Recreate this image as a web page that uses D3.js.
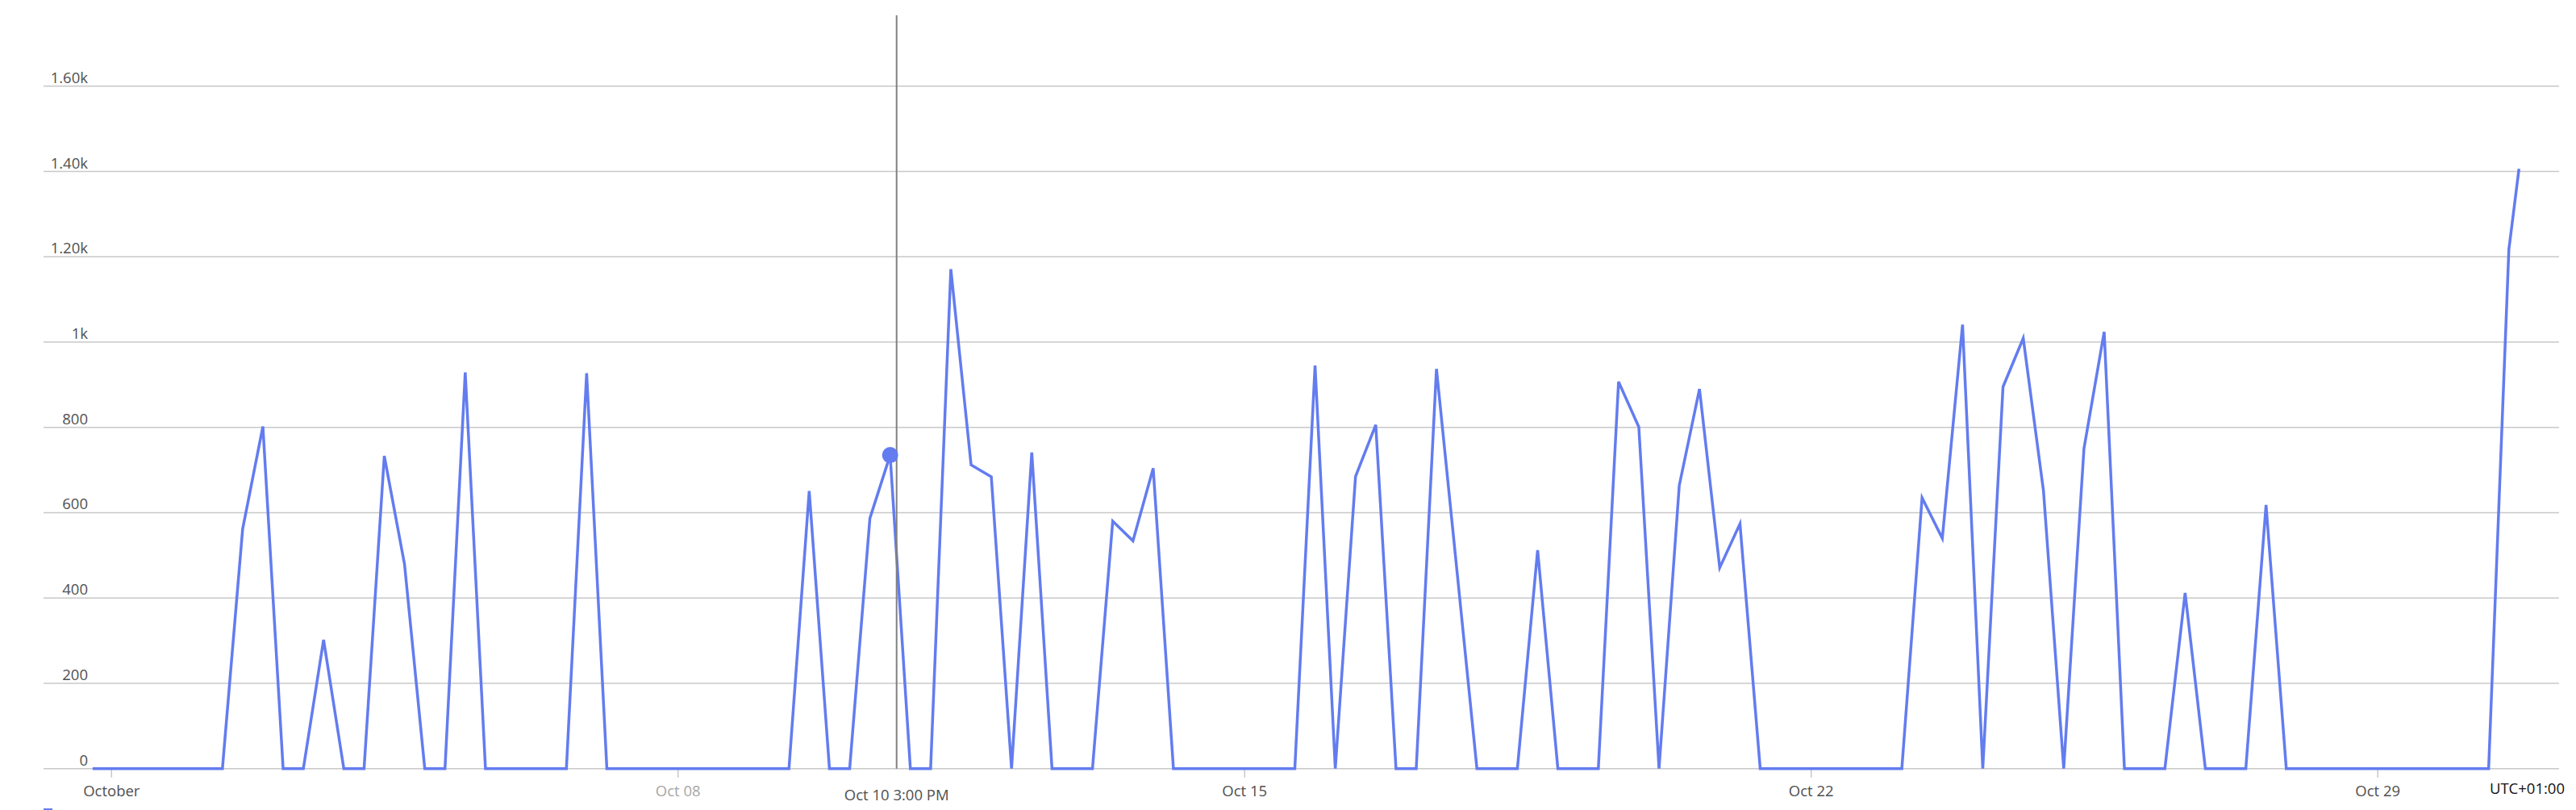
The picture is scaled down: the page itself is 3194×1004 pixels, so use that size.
<!DOCTYPE html>
<html>
<head>
<meta charset="utf-8">
<script src="https://cdn.jsdelivr.net/npm/d3@7"></script>
<style>
  html, body { margin: 0; padding: 0; background: #fff; }
  svg { display: block; font-family: "Segoe UI", "Open Sans", "Noto Sans", sans-serif; }
</style>
</head>
<body>
<svg id="chart" width="3194" height="1004"></svg>
<script>
// ---- data ----
const rangeStart = "2023-09-30T18:30:00Z";
const rangeEnd = "2023-10-30T18:00:00Z";
const firstBin = "2023-09-30T21:00:00Z";
const binHours = 6;
const startValue = 0;
const binValues = [
  0, 0, 0, 0, 0, 0, 0, 562, 802, 0,
  0, 302, 0, 0, 733, 479, 0, 0, 929, 0,
  0, 0, 0, 0, 927, 0, 0, 0, 0, 0,
  0, 0, 0, 0, 0, 651, 0, 0, 587, 735,
  0, 0, 1171, 712, 684, 0, 741, 0, 0, 0,
  580, 534, 704, 0, 0, 0, 0, 0, 0, 0,
  945, 0, 685, 806, 0, 0, 937, 470, 0, 0,
  0, 512, 0, 0, 0, 907, 801, 0, 664, 890,
  471, 574, 0, 0, 0, 0, 0, 0, 0, 0,
  635, 540, 1041, 0, 895, 1009, 651, 0, 750, 1024,
  0, 0, 0, 412, 0, 0, 0, 618, 0, 0,
  0, 0, 0, 0, 0, 0, 0, 0, 0, 1217
];
const endValue = 1406;
const yTicks = [0, 200, 400, 600, 800, 1000, 1200, 1400, 1600];
const yTickLabels = ["0", "200", "400", "600", "800", "1k", "1.20k", "1.40k", "1.60k"];
const xTickDates = ["2023-10-01T00:00:00Z", "2023-10-08T00:00:00Z", "2023-10-15T00:00:00Z", "2023-10-22T00:00:00Z", "2023-10-29T00:00:00Z"];
const xTickLabels = ["October", "Oct 08", "Oct 15", "Oct 22", "Oct 29"];
const fadedTick = "Oct 08";
const hoverIndex = 40; // index in full series (bin 39 + start point)
const hoverLabel = "Oct 10 3:00 PM";
const crosshairTime = "2023-10-10T16:55:00Z";
const yMax = 1766;
const timezoneLabel = "UTC+01:00";

// ---- build series ----
const times = [new Date(rangeStart)];
const values = [startValue];
binValues.forEach((v, i) => {
  times.push(d3.utcHour.offset(new Date(firstBin), i * binHours));
  values.push(v);
});
times.push(new Date(rangeEnd));
values.push(endValue);
const series = times.map((t, i) => ({ t, v: values[i] }));

// ---- layout ----
const svg = d3.select("#chart");
const plotLeft = 114.8, plotRight = 3123.3, gridLeft = 54, gridRight = 3173;
const plotTop = 19, plotBottom = 952.7;
const lineColor = "#637cef";
const textColor = "#505050";

const x = d3.scaleUtc().domain([new Date(rangeStart), new Date(rangeEnd)]).range([plotLeft, plotRight]);
const y = d3.scaleLinear().domain([0, yMax]).range([plotBottom, plotTop]);

// gridlines
const grid = svg.append("g");
grid.selectAll("line").data(yTicks).join("line")
  .attr("x1", gridLeft).attr("x2", gridRight)
  .attr("y1", d => y(d)).attr("y2", d => y(d))
  .attr("stroke", "#c8c8c8").attr("stroke-width", 1.5);

// y labels
svg.append("g").selectAll("text").data(yTicks).join("text")
  .attr("x", 109).attr("y", d => y(d) - 4)
  .attr("text-anchor", "end")
  .attr("font-size", 18.5).attr("fill", textColor)
  .text((d, i) => yTickLabels[i]);

// x axis ticks
const xAxis = d3.axisBottom(x)
  .tickValues(xTickDates.map(d => new Date(d)))
  .tickFormat((d, i) => xTickLabels[i])
  .tickSize(11).tickPadding(10);
const xg = svg.append("g").attr("transform", `translate(0,${plotBottom})`).call(xAxis);
xg.select(".domain").remove();
xg.selectAll(".tick line").attr("stroke", "#c8c8c8").attr("stroke-width", 1.5);
xg.selectAll(".tick text")
  .attr("font-size", 18.5)
  .attr("font-family", "\"Segoe UI\", \"Open Sans\", \"Noto Sans\", sans-serif")
  .attr("fill", (d, i) => xTickLabels[i] === fadedTick ? "#a6a6a6" : textColor);

// timezone label
svg.append("text")
  .attr("x", 3180).attr("y", 984)
  .attr("text-anchor", "end").attr("font-size", 18.5).attr("fill", "#111")
  .text(timezoneLabel);

// line
const line = d3.line().x(d => x(d.t)).y(d => y(d.v));
svg.append("path")
  .datum(series)
  .attr("fill", "none")
  .attr("stroke", lineColor)
  .attr("stroke-width", 3.5)
  .attr("stroke-linejoin", "miter")
  .attr("d", line);

// crosshair
const cx = x(new Date(crosshairTime));
svg.append("line")
  .attr("x1", cx).attr("x2", cx)
  .attr("y1", plotTop).attr("y2", plotBottom)
  .attr("stroke", "#808080").attr("stroke-width", 2);

// hover dot
const hp = series[hoverIndex];
svg.append("circle")
  .attr("cx", x(hp.t)).attr("cy", y(hp.v)).attr("r", 10)
  .attr("fill", lineColor);

// hover label
svg.append("text")
  .attr("x", cx).attr("y", 992)
  .attr("text-anchor", "middle").attr("font-size", 18.5).attr("fill", textColor)
  .text(hoverLabel);

// legend swatch (cut off at bottom)
svg.append("rect")
  .attr("x", 54).attr("y", 1002).attr("width", 11).attr("height", 3)
  .attr("fill", lineColor);
</script>
</body>
</html>
